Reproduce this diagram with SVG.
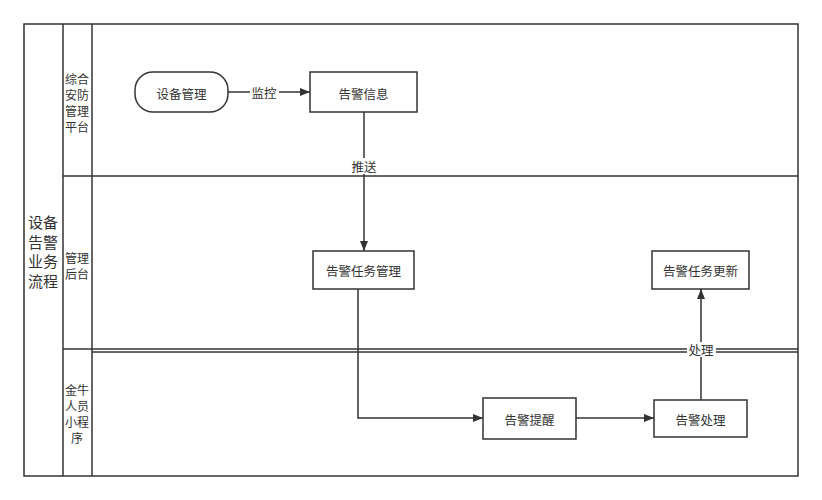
<svg xmlns="http://www.w3.org/2000/svg" width="822" height="500" viewBox="0 0 822 500">
<style>
.ln{stroke:#333;stroke-width:1.5;fill:none}
.box{fill:#fff;stroke:#333;stroke-width:1.5}
.t{font-family:"Noto Sans CJK SC","Noto Sans",sans-serif;font-size:12.5px;fill:#333;text-anchor:middle;dominant-baseline:central}
.lane{font-size:12px}
.pool{font-size:15px}
.lbl{fill:#fff}
</style>
<defs>
<marker id="arr" viewBox="0 0 10 10" refX="10" refY="5" markerWidth="10" markerHeight="10" markerUnits="userSpaceOnUse" orient="auto">
<path d="M0,1 L10,5 L0,9 Z" fill="#333"/>
</marker>
</defs>
<rect width="822" height="500" fill="#fff"/>
<g id="pool">
<rect x="24" y="24" width="774" height="452" class="ln"/>
<line x1="63" y1="24" x2="63" y2="476" class="ln"/>
<line x1="92" y1="24" x2="92" y2="476" class="ln"/>
<line x1="63" y1="176" x2="798" y2="176" class="ln"/>
<line x1="63" y1="349" x2="798" y2="349" class="ln"/>
<line x1="92" y1="352" x2="798" y2="352" class="ln" stroke-width="1"/>
<text class="t pool"><tspan x="43" y="221">设备</tspan><tspan x="43" y="240.5">告警</tspan><tspan x="43" y="260">业务</tspan><tspan x="43" y="279.5">流程</tspan></text>
</g>
<g id="lane1"><text class="t lane"><tspan x="77" y="78">综合</tspan><tspan x="77" y="94">安防</tspan><tspan x="77" y="110">管理</tspan><tspan x="77" y="126">平台</tspan></text></g>
<g id="lane2"><text class="t lane"><tspan x="77" y="257">管理</tspan><tspan x="77" y="273">后台</tspan></text></g>
<g id="lane3"><text class="t lane"><tspan x="77" y="389">金牛</tspan><tspan x="77" y="405">人员</tspan><tspan x="77" y="421">小程</tspan><tspan x="77" y="437">序</tspan></text></g>
<g id="connectors">
<line x1="228" y1="92" x2="310" y2="92" class="ln" marker-end="url(#arr)"/>
<rect x="250" y="84" width="29" height="16" class="lbl"/>
<text x="264" y="92" class="t">监控</text>
<line x1="364" y1="112" x2="364" y2="251" class="ln" marker-end="url(#arr)"/>
<rect x="349" y="158" width="30" height="16" class="lbl"/>
<text x="364" y="166" class="t">推送</text>
<polyline points="358,289 358,418 483,418" class="ln" marker-end="url(#arr)"/>
<line x1="576" y1="418" x2="654" y2="418" class="ln" marker-end="url(#arr)"/>
<line x1="701" y1="400" x2="701" y2="289" class="ln" marker-end="url(#arr)"/>
<rect x="687" y="342" width="29" height="15" class="lbl"/>
<text x="701" y="349" class="t">处理</text>
</g>
<g id="n1"><rect x="135" y="72" width="93" height="40" rx="18" class="box"/><text x="181.5" y="93" class="t">设备管理</text></g>
<g id="n2"><rect x="310" y="72" width="107" height="40" class="box"/><text x="363.5" y="93" class="t">告警信息</text></g>
<g id="n3"><rect x="313" y="251" width="101" height="38" class="box"/><text x="363.5" y="270" class="t">告警任务管理</text></g>
<g id="n4"><rect x="652" y="251" width="97" height="38" class="box"/><text x="700.5" y="270" class="t">告警任务更新</text></g>
<g id="n5"><rect x="483" y="398" width="93" height="41" class="box"/><text x="529.5" y="419" class="t">告警提醒</text></g>
<g id="n6"><rect x="654" y="400" width="93" height="37" class="box"/><text x="700.5" y="419" class="t">告警处理</text></g>
</svg>
